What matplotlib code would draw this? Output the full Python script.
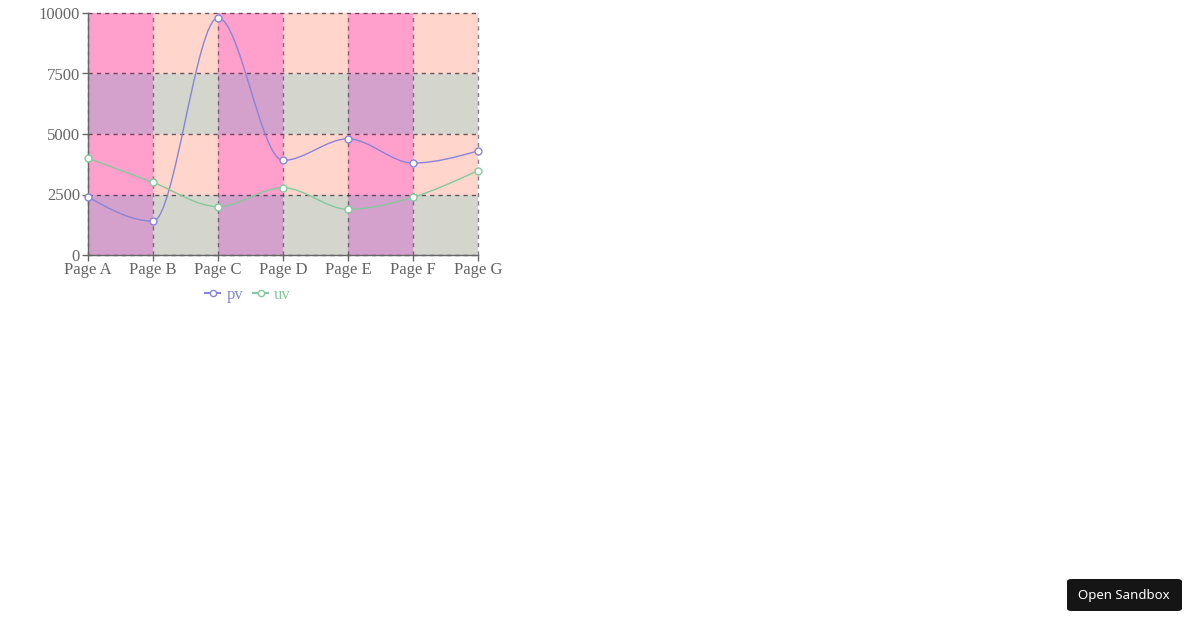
import numpy as np
import matplotlib
matplotlib.use("Agg")
import matplotlib.pyplot as plt
from matplotlib.lines import Line2D
from matplotlib.patches import FancyBboxPatch
from matplotlib.path import Path
from matplotlib.patches import PathPatch

categories = ["Page A", "Page B", "Page C", "Page D", "Page E", "Page F", "Page G"]
pv = [2400, 1398, 9800, 3908, 4800, 3800, 4300]
uv = [4000, 3000, 2000, 2780, 1890, 2390, 3490]
y_ticks = [0, 2500, 5000, 7500, 10000]

PV_COLOR = "#8884d8"
UV_COLOR = "#82ca9d"
TICK_COLOR = "#666666"
FONT = ["Liberation Serif", "DejaVu Serif"]

W, H = 1200, 630
fig = plt.figure(figsize=(W / 100, H / 100), dpi=100)
L, R, T, B = 88, 478, 13, 255
ax = fig.add_axes([L / W, 1 - B / H, (R - L) / W, (B - T) / H])
ax.set_xlim(0, len(categories) - 1)
ax.set_ylim(y_ticks[0], y_ticks[-1])

# grid cell fills (row colour x column colour)
for i in range(len(categories) - 1):
    for j in range(len(y_ticks) - 1):
        row_from_top = len(y_ticks) - 2 - j
        r = 255 if row_from_top % 2 == 0 else 212
        g = 160 if i % 2 == 0 else 213
        ax.add_patch(plt.Rectangle((i, y_ticks[j]), 1, y_ticks[j + 1] - y_ticks[j],
                                   facecolor=(r / 255, g / 255, 204 / 255),
                                   edgecolor="none", zorder=0))

# dashed grid lines
for yv in y_ticks:
    ax.axhline(yv, color="#3a2a3a", lw=1, ls=(0, (3, 3)), alpha=0.75, zorder=1, clip_on=False)
for xv in range(len(categories)):
    ax.axvline(xv, color="#3a2a3a", lw=1, ls=(0, (3, 3)), alpha=0.6, zorder=1, clip_on=False)


def monotone_path(xs, ys):
    xs = np.asarray(xs, float)
    ys = np.asarray(ys, float)
    n = len(xs)
    t = np.zeros(n)
    for k in range(1, n - 1):
        h0 = xs[k] - xs[k - 1]
        h1 = xs[k + 1] - xs[k]
        s0 = (ys[k] - ys[k - 1]) / h0
        s1 = (ys[k + 1] - ys[k]) / h1
        p = (s0 * h1 + s1 * h0) / (h0 + h1)
        t[k] = (np.sign(s0) + np.sign(s1)) * min(abs(s0), abs(s1), 0.5 * abs(p))
    h = xs[1] - xs[0]
    t[0] = (3 * (ys[1] - ys[0]) / h - t[1]) / 2
    h = xs[-1] - xs[-2]
    t[-1] = (3 * (ys[-1] - ys[-2]) / h - t[-2]) / 2
    verts = [(xs[0], ys[0])]
    codes = [Path.MOVETO]
    for k in range(n - 1):
        dx = (xs[k + 1] - xs[k]) / 3
        verts += [(xs[k] + dx, ys[k] + dx * t[k]),
                  (xs[k + 1] - dx, ys[k + 1] - dx * t[k + 1]),
                  (xs[k + 1], ys[k + 1])]
        codes += [Path.CURVE4] * 3
    return Path(verts, codes)


xpos = np.arange(len(categories))
for series, col in ((pv, PV_COLOR), (uv, UV_COLOR)):
    ax.add_patch(PathPatch(monotone_path(xpos, series), facecolor="none",
                           edgecolor=col, lw=1, zorder=3, clip_on=False))
    ax.plot(xpos, series, ls="none", marker="o", ms=5, mfc="white", mec=col,
            mew=1, zorder=4, clip_on=False)

for s in ["top", "right"]:
    ax.spines[s].set_visible(False)
for s in ["left", "bottom"]:
    ax.spines[s].set_color(TICK_COLOR)
    ax.spines[s].set_linewidth(1)
    ax.spines[s].set_zorder(2)

ax.set_yticks(y_ticks)
ax.set_yticklabels([str(v) for v in y_ticks])
ax.set_xticks(xpos)
ax.set_xticklabels(categories)
ax.tick_params(colors=TICK_COLOR, length=4.3, width=1, labelsize=12)
ax.tick_params(axis="x", pad=1)
ax.tick_params(axis="y", pad=1.5)
for lab in ax.get_xticklabels() + ax.get_yticklabels():
    lab.set_family(FONT)
    lab.set_color(TICK_COLOR)

handles = [Line2D([0], [0], color=PV_COLOR, lw=1.5, marker="o", ms=4.5, mfc="white", mec=PV_COLOR),
           Line2D([0], [0], color=UV_COLOR, lw=1.5, marker="o", ms=4.5, mfc="white", mec=UV_COLOR)]
fig.legend(handles, ["pv", "uv"], loc="center", bbox_to_anchor=(248 / W, 1 - 295 / H),
           ncol=2, frameon=False, handlelength=0.9, handletextpad=0.35, columnspacing=0.6,
           labelcolor="linecolor", prop={"family": FONT, "size": 12})

# "Open Sandbox" button
fig.patches.append(FancyBboxPatch((1067 / W, 1 - 611 / H), 115 / W, 32 / H,
                                  boxstyle="round,pad=0,rounding_size=0.004",
                                  transform=fig.transFigure, facecolor="#151515",
                                  edgecolor="none"))
fig.text(1124 / W, 1 - 595 / H, "Open Sandbox", color="white", ha="center", va="center",
         fontsize=9.5, family=["Noto Sans", "DejaVu Sans"])

fig.savefig("out.png", dpi=100)
